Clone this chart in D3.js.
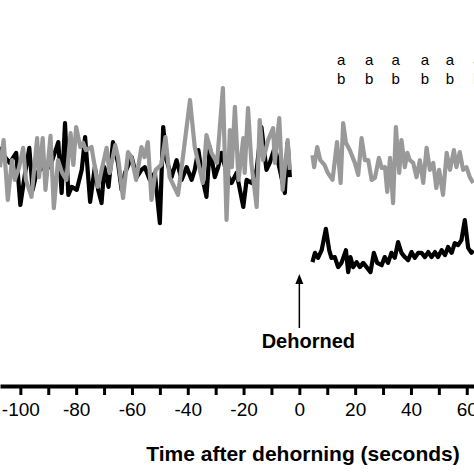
<!DOCTYPE html>
<html>
<head>
<meta charset="utf-8">
<script src="https://cdn.jsdelivr.net/npm/d3@7"></script>
<style>
  body { margin: 0; background: #fff; }
  svg { display: block; font-family: "Liberation Sans", Arial, sans-serif; }
</style>
</head>
<body>
<svg width="474" height="474"></svg>
<script>
// time (s) and value (arbitrary units)
const grayPreT = [-107.3, -106, -104.5, -103, -102, -100.5, -99, -98, -96, -94, -93.3, -92, -91, -89.2, -88, -86.5, -85, -83.5, -82, -81, -80, -78.5, -77.5, -76.5, -74.5, -73.3, -72.2, -69.1, -68, -66, -65, -63.2, -61.4, -60.2, -58.5, -56.6, -55.5, -54.3, -53, -51.5, -49.5, -48, -46.5, -43.5, -42, -39.2, -37.5, -34.6, -33.3, -31.5, -29.5, -27.4, -26.1, -24.9, -24.2, -23.1, -21.8, -20.1, -19.6, -18.4, -17.2, -15.3, -14.2, -13, -11.2, -9.4, -8.8, -7.2, -6, -4.2, -3.4];
const grayPreV = [56.7, 63.7, 48.2, 58.5, 53.4, 56.5, 61.7, 53.4, 49.0, 64.2, 54.1, 64.2, 50.8, 64.8, 46.1, 58.5, 55.2, 53.4, 65.5, 57.3, 67.1, 61.9, 63.0, 61.1, 61.9, 56.7, 51.6, 61.7, 55.2, 62.4, 59.3, 48.7, 60.6, 59.3, 53.4, 61.9, 59.3, 63.2, 48.2, 56.0, 57.3, 64.5, 54.1, 49.5, 57.8, 74.1, 61.9, 52.6, 65.0, 60.4, 57.8, 77.2, 43.0, 66.3, 56.7, 72.3, 53.4, 64.2, 55.2, 72.0, 57.8, 46.4, 68.9, 58.5, 63.7, 66.8, 57.8, 69.4, 50.8, 63.7, 56.0];

const blackPreT = [-107.3, -105.5, -103.8, -101.5, -100, -98.3, -96.8, -95.6, -94.2, -91.8, -89.4, -86.4, -85.2, -84, -82.8, -81.6, -79.8, -78, -76.8, -75, -73.3, -72.1, -70.9, -69.9, -68.4, -66.8, -65, -63.7, -62.5, -60.1, -58.3, -56.6, -55.4, -53.6, -51.8, -50, -48.8, -47.6, -45.8, -44, -42.2, -40.4, -38.6, -37.5, -36.2, -34.6, -33.3, -32.1, -30.3, -29.1, -27.9, -26.1, -24.3, -22.5, -20.1, -18.9, -17.1, -15.3, -13.6, -11.8, -10.6, -8.8, -7, -5.2, -4.2, -3.4];
const blackPreV = [61.9, 59.3, 57.8, 60.4, 46.9, 55.2, 61.7, 50.8, 55.2, 56.7, 56.7, 63.2, 50.0, 68.1, 49.5, 51.6, 50.8, 56.0, 64.5, 47.7, 56.7, 50.8, 47.4, 56.7, 51.6, 63.2, 57.8, 50.8, 55.2, 59.3, 54.1, 56.0, 56.7, 53.4, 55.2, 42.2, 67.1, 58.5, 54.1, 58.5, 53.4, 56.7, 53.4, 56.0, 61.1, 53.4, 49.0, 61.9, 54.1, 56.7, 60.4, 55.2, 52.6, 55.2, 46.4, 53.4, 52.6, 56.0, 67.1, 56.0, 57.8, 61.9, 56.0, 50.0, 63.0, 54.1];

const grayPostT = [4.7, 5.3, 6.4, 7.5, 9, 10.2, 11.9, 13.5, 14.8, 15.7, 16.7, 18.1, 19.9, 21.1, 22.3, 23.5, 24.7, 25.9, 27.1, 28.5, 29.5, 30.7, 31.5, 32.5, 33.6, 34.6, 35.8, 36.6, 37.8, 38.7, 39.6, 40.8, 42, 43.2, 44.4, 45.6, 46.8, 48, 49.1, 50.1, 51.5, 52.8, 54, 55.4, 56.3, 57.5, 58.7, 59.9, 61.1, 62.3];
const grayPostV = [59.8, 56.7, 61.9, 58.5, 57.3, 55.2, 53.4, 63.2, 52.6, 68.1, 63.0, 61.1, 57.8, 54.7, 64.2, 58.5, 58.5, 53.4, 53.9, 59.1, 56.5, 56.7, 50.3, 59.1, 47.4, 67.1, 55.2, 63.7, 56.7, 60.4, 58.5, 57.8, 54.1, 58.5, 52.6, 61.7, 56.0, 57.8, 51.3, 56.0, 49.5, 60.4, 56.0, 61.1, 56.7, 60.6, 56.0, 56.7, 54.1, 52.6];

const blackPostT = [4.7, 5.6, 6.7, 8.0, 9.5, 10.7, 11.5, 12.7, 13.9, 15.1, 16.7, 17.5, 18.3, 19.3, 20.5, 21.7, 22.9, 24.1, 25.5, 26.7, 27.9, 29.5, 30.6, 31.8, 33.0, 34.2, 35.4, 36.6, 37.8, 39.0, 40.2, 41.4, 42.6, 43.8, 45.0, 46.2, 47.4, 48.6, 49.7, 51.0, 52.2, 53.3, 54.6, 55.7, 56.9, 58.1, 59.3, 60.5, 61.7, 62.3];
const blackPostV = [32.1, 34.5, 33.2, 35.2, 40.7, 35.2, 33.2, 33.4, 30.8, 31.9, 35.2, 29.5, 33.4, 30.8, 32.1, 30.8, 31.9, 30.8, 29.5, 34.5, 31.9, 31.3, 33.4, 31.9, 34.5, 33.2, 37.3, 34.5, 33.4, 32.6, 34.7, 33.2, 34.5, 34.5, 33.4, 34.7, 33.4, 34.7, 33.4, 35.2, 33.9, 36.0, 34.5, 37.0, 36.5, 37.8, 43.0, 35.8, 34.5, 35.2];

// significance letters
const letterT = [15, 25, 34.5, 45, 54, 63.8];
const tickVals = d3.range(-110, 71, 10);
const eventT = 0;

const svg = d3.select("svg");
const width = +svg.attr("width");

const x = d3.scaleLinear().domain([-107.3, 62.6]).range([0, width]);
const y = d3.scaleLinear().domain([0, 100]).range([386, 0]);

const line = d3.line().x(d => x(d[0])).y(d => y(d[1]));
const pairs = (t, v) => t.map((d, i) => [d, v[i]]);

const series = [
    { t: blackPreT, v: blackPreV, color: "#000" },
    { t: blackPostT, v: blackPostV, color: "#000" },
    { t: grayPreT, v: grayPreV, color: "#999" },
    { t: grayPostT, v: grayPostV, color: "#999" }
];

svg.selectAll(".series")
    .data(series)
    .enter()
    .append("path")
    .attr("class", "series")
    .attr("d", d => line(pairs(d.t, d.v)))
    .attr("fill", "none")
    .attr("stroke", d => d.color)
    .attr("stroke-width", 4.2)
    .attr("stroke-linejoin", "round");

// x axis
const xAxis = svg.append("g")
    .attr("transform", `translate(0, ${y(0)})`)
    .call(d3.axisBottom(x)
        .tickValues(tickVals)
        .tickSize(9)
        .tickSizeOuter(0)
        .tickPadding(8)
        .tickFormat(d => d % 20 === 0 ? d : ""));
xAxis.select(".domain").attr("stroke", "#000").attr("stroke-width", 4);
xAxis.selectAll(".tick line").attr("stroke", "#000").attr("stroke-width", 3);
xAxis.selectAll(".tick text")
    .attr("fill", "#000")
    .style("font-size", "19px")
    .style("font-family", "'Liberation Sans', Arial, sans-serif");

svg.append("text")
    .attr("x", 303)
    .attr("y", 461)
    .attr("text-anchor", "middle")
    .style("font-size", "21px")
    .style("font-weight", "bold")
    .text("Time after dehorning (seconds)");

// letters above the post-dehorning part
const letters = svg.append("g");
letters.selectAll(".la")
    .data(letterT)
    .enter()
    .append("text")
    .attr("x", d => x(d))
    .attr("y", 64.5)
    .attr("text-anchor", "middle")
    .style("font-size", "15px")
    .text("a");
letters.selectAll(".lb")
    .data(letterT)
    .enter()
    .append("text")
    .attr("x", d => x(d))
    .attr("y", 83.5)
    .attr("text-anchor", "middle")
    .style("font-size", "15px")
    .text("b");

// dehorned arrow
const ax = x(eventT);
svg.append("line")
    .attr("x1", ax).attr("x2", ax)
    .attr("y1", 328).attr("y2", 282)
    .attr("stroke", "#000")
    .attr("stroke-width", 1.5);
svg.append("path")
    .attr("d", `M${ax},274 L${ax - 4},284 L${ax + 4},284 Z`)
    .attr("fill", "#000");
svg.append("text")
    .attr("x", ax + 9)
    .attr("y", 348)
    .attr("text-anchor", "middle")
    .style("font-size", "20px")
    .style("font-weight", "bold")
    .text("Dehorned");
</script>
</body>
</html>
